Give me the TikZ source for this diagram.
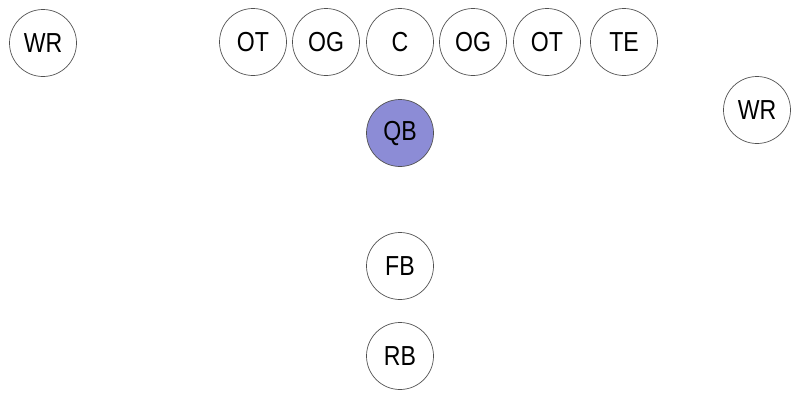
\documentclass[tikz,border=0pt]{standalone}
\usepackage{fontspec}
\setmainfont{Liberation Sans}
\usepackage{graphicx}
\definecolor{qbblue}{RGB}{140, 140, 214}
\definecolor{ringgray}{RGB}{80, 80, 80}
\usetikzlibrary{positioning}
\newcommand{\pos}[1]{\scalebox{0.84}[1]{#1}}

\begin{document}
\begin{tikzpicture}[x=1pt, y=-1pt,
  player/.style={circle, draw=ringgray, line width=0.7pt, fill=white, minimum size=67pt, inner sep=0pt, font=\fontsize{27.5}{29}\selectfont}]
  \useasboundingbox (0,0) rectangle (800,400);

  % Line of scrimmage
  \node[player] (wrl) at (43, 43) {\pos{WR}};
  \node[player] (otl) at (253, 42) {\pos{OT}};
  \node[player] (ogl) at (326, 42) {\pos{OG}};
  \node[player] (c) at (400, 42) {\pos{C}};
  \node[player] (ogr) at (473, 42) {\pos{OG}};
  \node[player] (otr) at (547, 42) {\pos{OT}};
  \node[player] (te) at (624, 42) {\pos{TE}};
  \node[player] (wrr) at (757, 110) {\pos{WR}};

  % Backfield
  \node[player, fill=qbblue] (qb) at (400, 133) {\pos{QB}};
  \node[player] (fb) at (400, 266) {\pos{FB}};
  \node[player] (rb) at (400, 356) {\pos{RB}};
\end{tikzpicture}
\end{document}
